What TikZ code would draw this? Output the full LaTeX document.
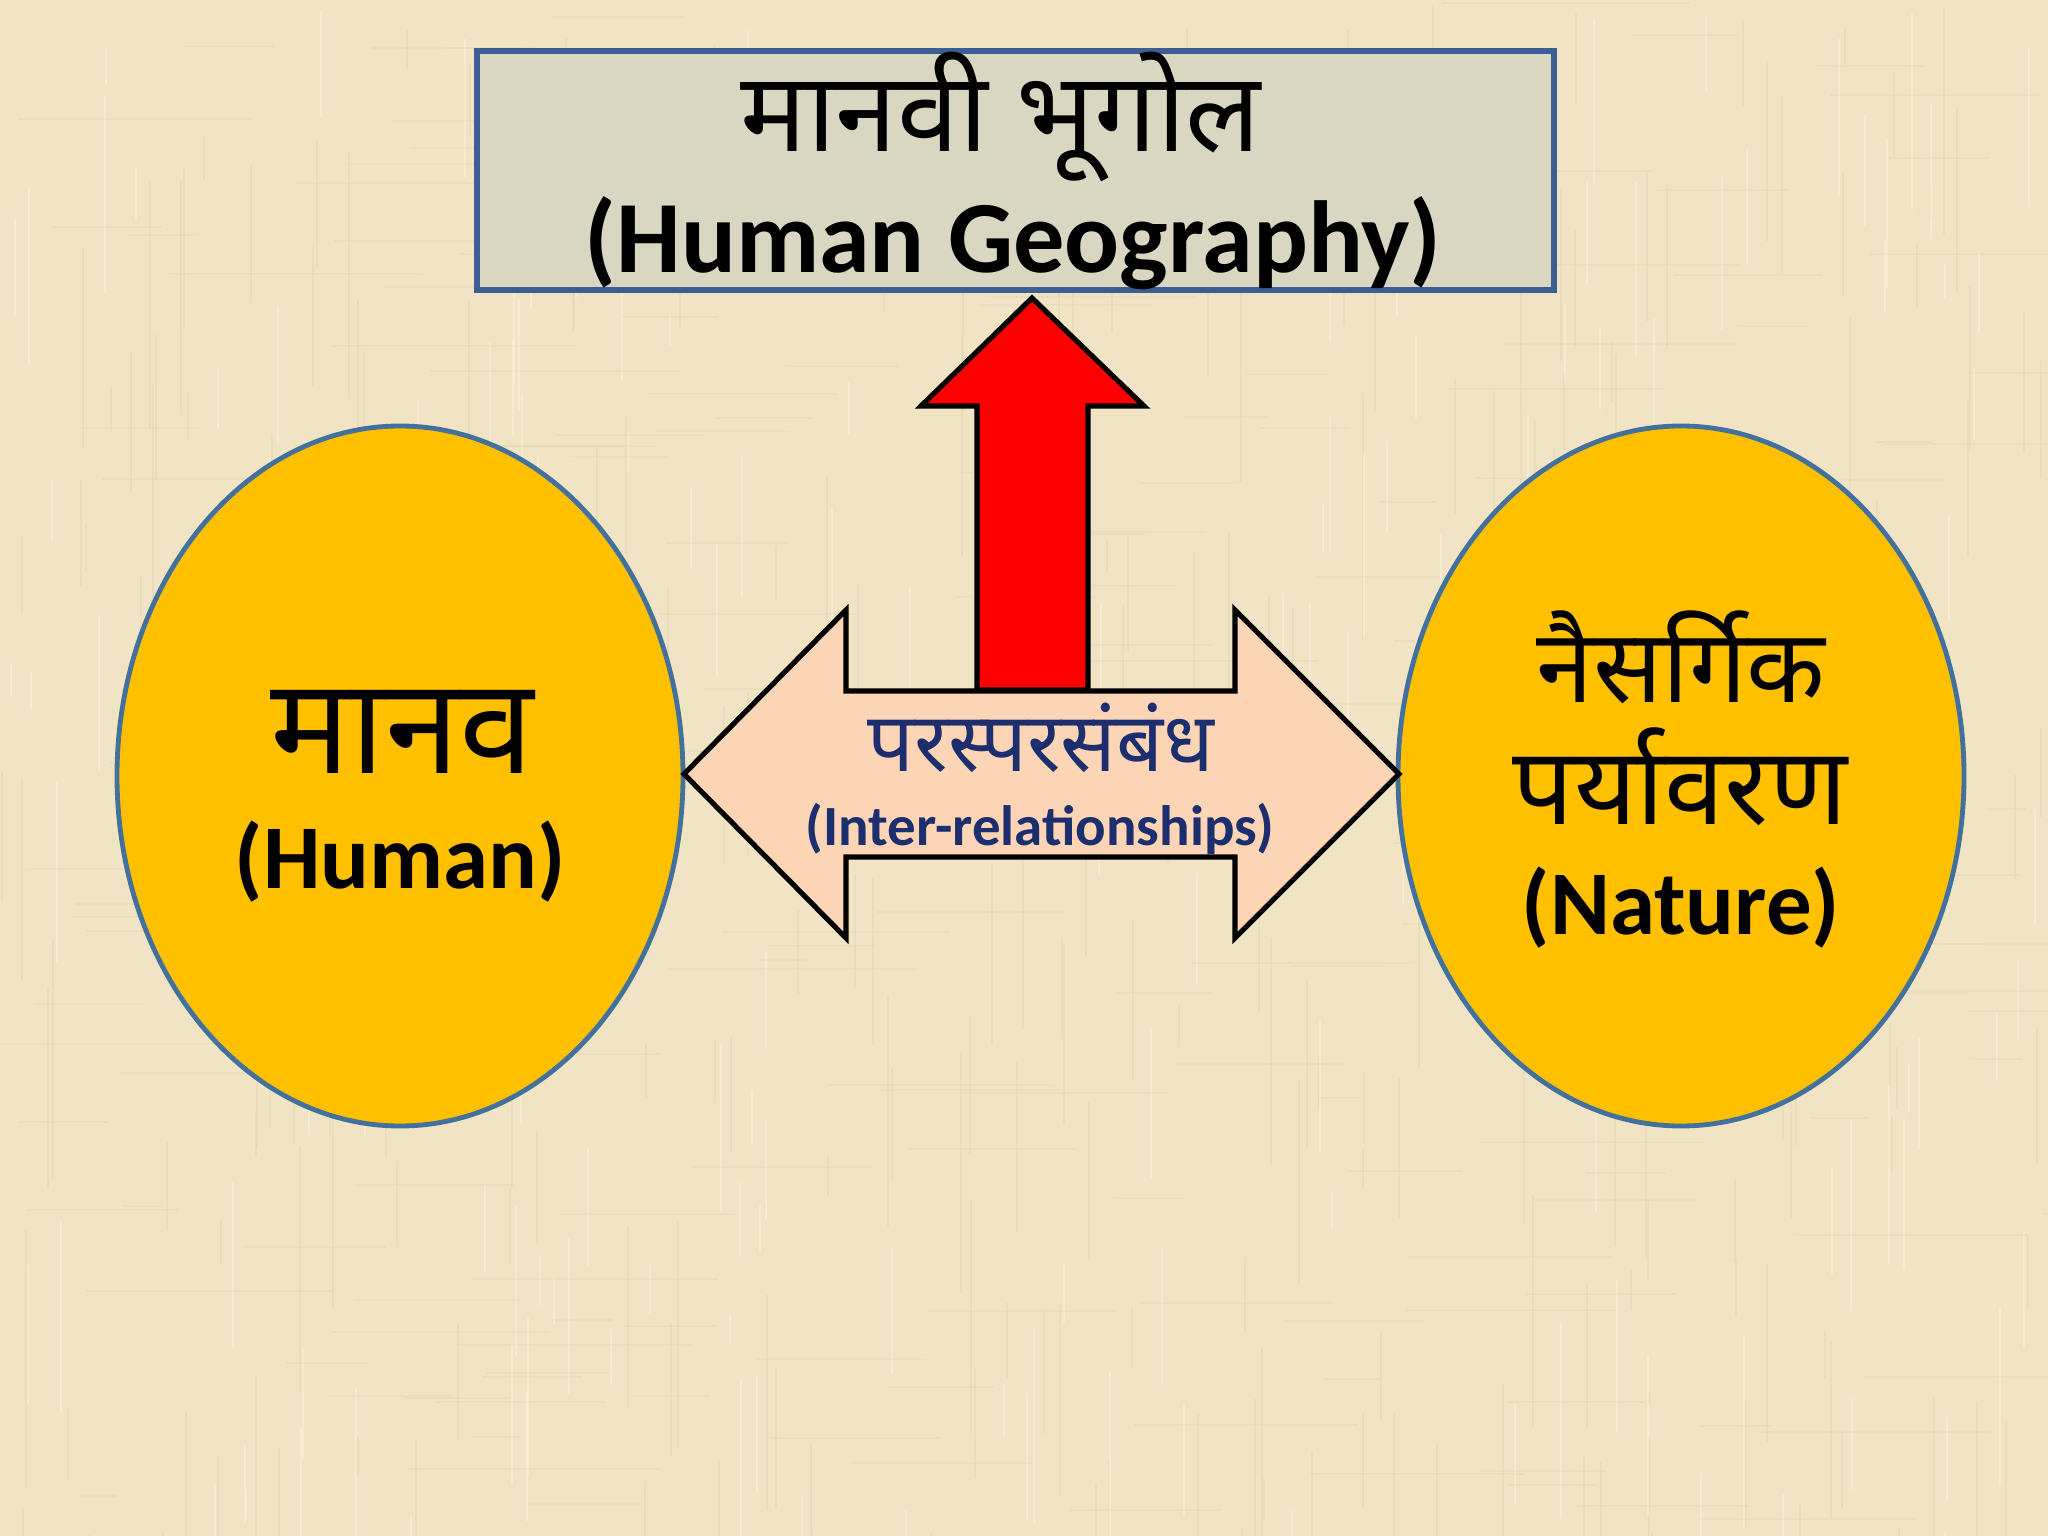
\documentclass[tikz,border=0pt]{standalone}
\usepackage{fontspec}
\setmainfont{Carlito}
\newfontfamily\deva[Script=Devanagari]{Noto Sans}
\usetikzlibrary{shapes.geometric}
\definecolor{bg}{HTML}{F0E4C4}
\definecolor{bgdark}{HTML}{D9C89E}
\definecolor{bglight}{HTML}{FBF3DC}
\definecolor{boxfill}{HTML}{D9D7C1}
\definecolor{boxline}{HTML}{3B5E94}
\definecolor{gold}{HTML}{FFC000}
\definecolor{ellline}{HTML}{41719C}
\definecolor{peach}{HTML}{FBD5B5}
\definecolor{navy}{HTML}{1C2E6E}
\def\u{0.3515625pt}
\tikzset{
  titlebox/.style={draw=boxline, fill=boxfill, line width=2pt, inner sep=0pt, minimum width=1077*\u, minimum height=239*\u},
  circ/.style={ellipse, draw=ellline, fill=gold, line width=1.7pt, inner sep=0pt, minimum width=566*\u, minimum height=700*\u},
  blockarrow/.style={draw=black, line width=1.8pt, line join=miter},
  devtxt/.style={anchor=base, inner sep=0pt, font=\deva\fontsize{#1}{#1}\selectfont},
  entxt/.style={anchor=base, inner sep=0pt, font=\bfseries\fontsize{#1}{#1}\selectfont},
}
\begin{document}
\begin{tikzpicture}[x=0.3515625pt, y=-0.3515625pt]
\path[fill=bg] (0,0) rectangle (2048,1536);
\useasboundingbox (0,0) rectangle (2048,1536);
% linen texture
\pgfmathsetseed{11}
\foreach \i in {1,...,260}{
  \pgfmathsetmacro{\xa}{random(0,2048)}
  \pgfmathsetmacro{\ya}{random(0,1536)}
  \pgfmathsetmacro{\la}{random(30,260)}
  \draw[bgdark, opacity=0.22, line width=0.6pt] (\xa,\ya) -- ++(0,\la);
}
\foreach \i in {1,...,200}{
  \pgfmathsetmacro{\xa}{random(0,2048)}
  \pgfmathsetmacro{\ya}{random(0,1536)}
  \pgfmathsetmacro{\la}{random(30,260)}
  \draw[bgdark, opacity=0.18, line width=0.6pt] (\xa,\ya) -- ++(\la,0);
}
\foreach \i in {1,...,180}{
  \pgfmathsetmacro{\xa}{random(0,2048)}
  \pgfmathsetmacro{\ya}{random(0,1536)}
  \pgfmathsetmacro{\la}{random(30,200)}
  \draw[bglight, opacity=0.5, line width=0.5pt] (\xa,\ya) -- ++(0,\la);
}

\node[titlebox] (title) at (1015.5,170.5) {};
\node[circ] (human) at (400,776) {};
\node[circ] (nature) at (1681,776) {};

% double arrow
\draw[blockarrow, fill=peach] (684,774) -- (846,610) -- (846,691) -- (1235,691) -- (1235,610) -- (1399,774) -- (1235,938) -- (1235,857) -- (846,857) -- (846,938) -- cycle;
% red arrow
\draw[blockarrow, fill=red] (1032,298) -- (1144,406) -- (1088,406) -- (1088,690) -- (977,690) -- (977,406) -- (921,406) -- cycle;

\node[devtxt=39] (t1) at (1001,152) {मानवी भूगोल};
\node[entxt=36] (t2) at (1013,273) {(Human Geography)};

\node[devtxt=47] (h1) at (402,773) {मानव};
\node[entxt=32] (h2) at (400,888) {(Human)};

\node[devtxt=36] (n1) at (1681,702) {नैसर्गिक};
\node[devtxt=38] (n2) at (1680,824) {पर्यावरण};
\node[entxt=32] (n3) at (1681,934) {(Nature)};

\node[devtxt=29, text=navy] (r1) at (1041,771) {परस्परसंबंध};
\node[entxt=20, text=navy] (r2) at (1040,845) {(Inter-relationships)};
\end{tikzpicture}
\end{document}
